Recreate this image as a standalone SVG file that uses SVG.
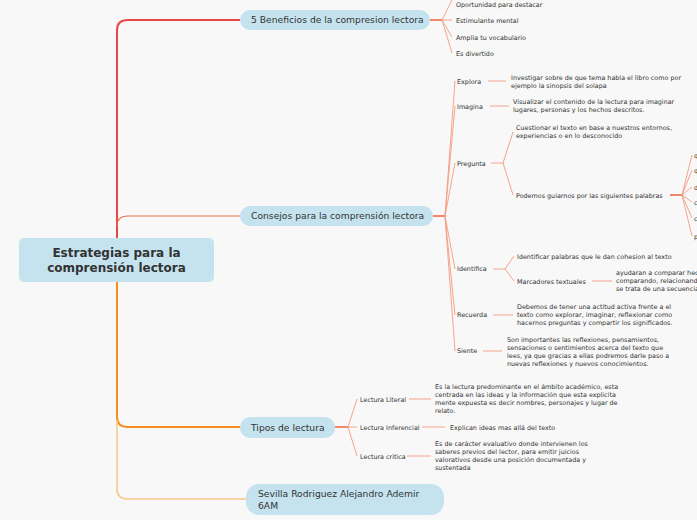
<svg xmlns="http://www.w3.org/2000/svg" width="697" height="520" viewBox="0 0 697 520">
<style>
text{font-family:"DejaVu Sans","Verdana",sans-serif;fill:#333}
.s{font-size:6.4px}
.m{font-size:9.2px}
.pill{fill:#c5e3ef}
.c{fill:none;stroke:#f59a80;stroke-width:0.9}
.ct{fill:none;stroke:#f06a45;stroke-width:1.6}
</style>
<rect width="697" height="520" fill="#f8f8f8"/>
<g id="connectors">
<path d="M117 260 L117 30 Q117 20 128 20 L240 20" fill="none" stroke="#e8474a" stroke-width="2"/>
<path d="M117 226 Q117 216 128 216 L240 216" fill="none" stroke="#f06a45" stroke-width="1.2"/>
<path d="M117 282 L117 417 Q117 427 128 427 L240 427" fill="none" stroke="#f5901e" stroke-width="2"/>
<path d="M117 420 L117 489 Q117 499 128 499 L246 499" fill="none" stroke="#f9c58a" stroke-width="1.5"/>
<path class="ct" d="M430 20 L442 20"/>
<path class="c" d="M442 20 L452 0 M442 20 L452 20 M442 20 L452 37 M442 20 L452 53"/>
<path class="ct" d="M433 216 L445 216"/>
<path class="c" d="M445 216 L455 81 M445 216 L455 106 M445 216 L455 163 M445 216 L455 269 M445 216 L455 315 M445 216 L455 351"/>
<path class="c" d="M488 81 L506 81 M490 106 L509 106 M491 163 L503 163 M503 163 L513 132 M503 163 L513 195 M493 269 L505 269 M505 269 L514 256 M505 269 L514 281 M592 281 L612 281 M493 315 L513 315 M483 351 L502 351"/>
<path class="ct" d="M670 195 L682 195"/>
<path class="c" d="M682 195 L692 155 M682 195 L692 170 M682 195 L692 187 M682 195 L692 202 M682 195 L692 218 M682 195 L692 236"/>
<path class="ct" d="M335 427 L348 427"/>
<path class="c" d="M348 427 L357 399 M348 427 L357 427 M348 427 L357 456 M409 399 L431 399 M422 427 L445 427 M407 456 L431 456"/>
</g>
<g id="root"><rect class="pill" x="19" y="238" width="195" height="44" rx="5"/>
<text x="116.5" y="257" text-anchor="middle" font-size="12" font-weight="bold">Estrategias para la</text>
<text x="116.5" y="272" text-anchor="middle" font-size="12" font-weight="bold">comprensión lectora</text></g>
<g id="b1"><rect class="pill" x="240" y="10" width="190" height="20" rx="10"/><text class="m" x="251" y="23">5 Beneficios de la compresion lectora</text></g>
<g id="b2"><rect class="pill" x="240" y="206" width="193" height="20" rx="10"/><text class="m" x="251" y="219">Consejos para la comprensión lectora</text></g>
<g id="b3"><rect class="pill" x="240" y="417" width="95" height="21" rx="10"/><text class="m" x="251" y="431">Tipos de lectura</text></g>
<g id="b4"><rect class="pill" x="246" y="484" width="198" height="31" rx="13"/><text class="m" x="258" y="497">Sevilla Rodriguez Alejandro Ademir</text><text class="m" x="258" y="509">6AM</text></g>
<g id="b1c" class="s">
<text x="456" y="7">Oportunidad para destacar</text>
<text x="456" y="23">Estimulante mental</text>
<text x="456" y="40">Amplia tu vocabulario</text>
<text x="456" y="56">Es divertido</text>
</g>
<g id="b2c" class="s">
<text x="457" y="84">Explora</text>
<text x="511" y="80">Investigar sobre de que tema habla el libro como por</text>
<text x="511" y="88">ejemplo la sinopsis del solapa</text>
<text x="457" y="109">Imagina</text>
<text x="513" y="104">Visualizar el contenido de la lectura para imaginar</text>
<text x="513" y="112">lugares, personas y los hechos descritos.</text>
<text x="457" y="166">Pregunta</text>
<text x="516" y="130">Cuestionar el texto en base a nuestros entornos,</text>
<text x="516" y="138">experiencias o en lo desconocido</text>
<text x="516" y="198">Podemos guiarnos por las siguientes palabras</text>
<text x="694" y="158">q</text><text x="694" y="173">q</text><text x="694" y="190">d</text><text x="694" y="205">c</text><text x="694" y="221">c</text><text x="694" y="239">p</text>
<text x="457" y="271">Identifica</text>
<text x="517" y="259">Identificar palabras que le dan cohesion al texto</text>
<text x="517" y="284">Marcadores textuales</text>
<text x="616" y="275">ayudaran a comparar hechos</text>
<text x="616" y="283">comparando, relacionando</text>
<text x="616" y="291">se trata de una secuencia</text>
<text x="457" y="317">Recuerda</text>
<text x="517" y="309">Debemos de tener una actitud activa frente a el</text>
<text x="517" y="317">texto como explorar, imaginar, reflexionar como</text>
<text x="517" y="325">hacernos preguntas y compartir los significados.</text>
<text x="457" y="353">Siente</text>
<text x="507" y="342">Son importantes las reflexiones, pensamientos,</text>
<text x="507" y="350">sensaciones o sentimientos acerca del texto que</text>
<text x="507" y="358">lees, ya que gracias a ellas podremos darle paso a</text>
<text x="507" y="366">nuevas reflexiones y nuevos conocimientos.</text>
</g>
<g id="b3c" class="s">
<text x="360" y="402">Lectura Literal</text>
<text x="435" y="389">Es la lectura predominante en el ámbito académico, esta</text>
<text x="435" y="397">centrada en las ideas y la información que esta explicita</text>
<text x="435" y="405">mente expuesta es decir nombres, personajes y lugar de</text>
<text x="435" y="413">relato.</text>
<text x="360" y="430">Lectura Inferencial</text>
<text x="450" y="430">Explican ideas mas allá del texto</text>
<text x="360" y="459">Lectura critica</text>
<text x="435" y="446">Es de carácter evaluativo  donde intervienen los</text>
<text x="435" y="454">saberes previos del lector, para emitir juicios</text>
<text x="435" y="462">valorativos desde una posición documentada y</text>
<text x="435" y="470">sustentada</text>
</g>
</svg>
